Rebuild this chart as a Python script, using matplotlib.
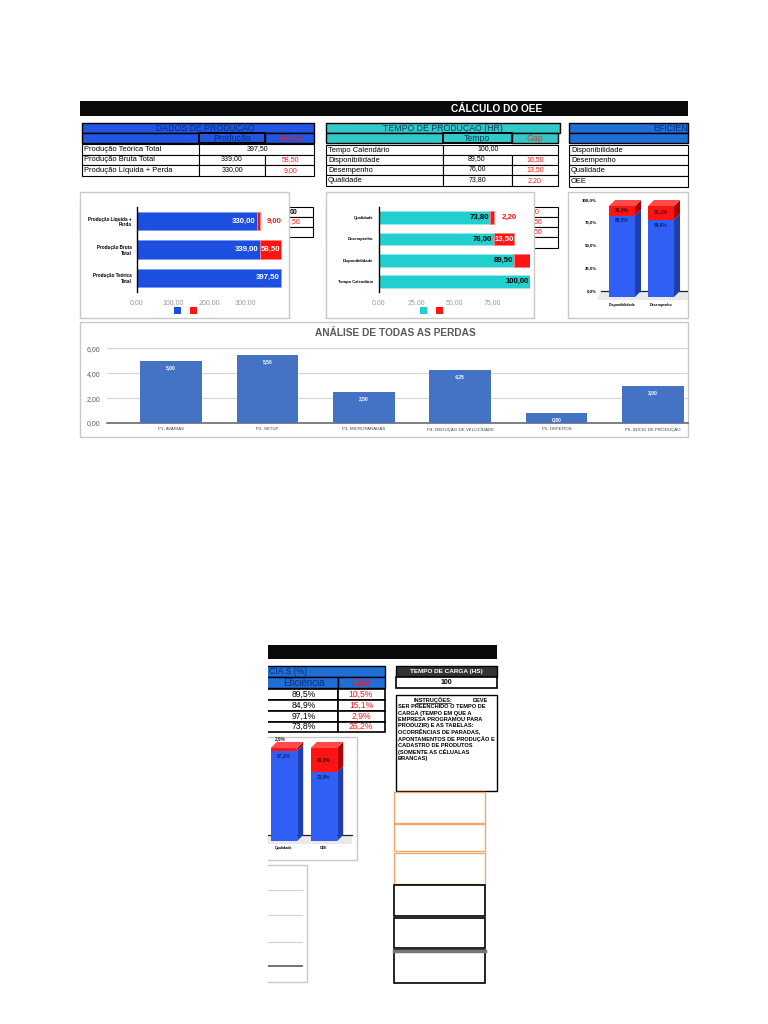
import matplotlib
matplotlib.use("Agg")
import matplotlib.pyplot as plt
from matplotlib.patches import Rectangle, Polygon

plt.rcParams['font.family'] = ['Liberation Sans', 'DejaVu Sans']

# ---- data ----
prod_labels = ["Produção Teórica Total", "Produção Bruta Total", "Produção Líquida + Perda"]
prod_chart_labels = ["Produção Teórica\nTotal", "Produção Bruta\nTotal", "Produção Líquida +\nPerda"]
prod_values = [397.50, 339.00, 330.00]
prod_loss = [0.0, 58.50, 9.00]

tempo_labels = ["Tempo Calendário", "Disponibilidade", "Desempenho", "Qualidade"]
tempo_values = [100.00, 89.50, 76.00, 73.80]
tempo_gap = [0.0, 10.50, 13.50, 2.20]

ef_labels = ["Disponibilidade", "Desempenho", "Qualidade", "OEE"]
ef_values = [89.5, 84.9, 97.1, 73.8]
ef_gap = [10.5, 15.1, 2.9, 26.2]

perdas_labels = ["P1- AVARIAS", "P2- SETUP", "P3- MICROPARADAS", "P4- REDUÇÃO DE VELOCIDADE",
                 "P5- DEFEITOS", "P6- INÍCIO DE PRODUÇÃO"]
perdas_values = [5.00, 5.50, 2.50, 4.25, 0.80, 3.00]

tempo_carga = 100

instrucoes = ["SER PREENCHIDO O TEMPO DE", "CARGA (TEMPO EM QUE A", "EMPRESA PROGRAMOU PARA",
              "PRODUZIR) E AS TABELAS:", "OCORRÊNCIAS DE PARADAS,", "APONTAMENTOS DE PRODUÇÃO E",
              "CADASTRO DE PRODUTOS", "(SOMENTE AS CÉLUALAS", "BRANCAS)"]

BLUE = '#2156e0'
BLUE2 = '#1f6fd6'
NAVY = '#0d2a7a'
TEAL = '#33c9c9'
RED = '#ff1414'
BARBLUE = '#1c4fdf'


def fmt(v, d=2):
    return f"{v:.{d}f}".replace(".", ",")


W, H = 768, 1024
fig = plt.figure(figsize=(7.68, 10.24), dpi=100)
bg = fig.add_axes([0, 0, 1, 1])
bg.set_xlim(0, W)
bg.set_ylim(H, 0)
bg.axis('off')


def box(x0, y0, x1, y1, fc='white', ec='black', lw=0.8, z=2):
    bg.add_patch(Rectangle((x0, y0), x1 - x0, y1 - y0, facecolor=fc, edgecolor=ec, linewidth=lw, zorder=z))


def txt(x, y, s, size=5.5, color='black', ha='left', weight='normal', z=6, **kw):
    bg.text(x, y, s, fontsize=size, color=color, ha=ha, va='center', fontweight=weight, zorder=z, **kw)


def panel(x0, y0, x1, y1):
    ax = fig.add_axes([x0 / W, 1 - y1 / H, (x1 - x0) / W, (y1 - y0) / H])
    ax.set_facecolor('none')
    return ax


# ---- title bar ----
box(80, 101, 688, 116, fc='#0a0a0a', ec='none')
txt(497, 108.5, "CÁLCULO DO OEE", size=7.3, color='white', ha='center', weight='bold')

# ---- table 1: dados de producao ----
box(82, 123, 314, 133, fc=BLUE, lw=1)
txt(205, 128.5, "DADOS DE PRODUÇÃO", size=6.3, color=NAVY, ha='center')
box(82, 133, 199, 143, fc=BLUE, lw=1)
box(199, 133, 265, 143, fc=BLUE, lw=1.4)
box(265, 133, 314, 143, fc=BLUE, lw=1)
txt(232, 138.5, "Produção", size=6.3, color=NAVY, ha='center')
txt(290, 138.5, "Perda", size=6.3, color=RED, ha='center')
ys = [144, 154.5, 165, 175.5]
for i, lab in enumerate(prod_labels):
    y0, y1 = ys[i], ys[i + 1]
    ym = (y0 + y1) / 2
    box(82, y0, 199, y1)
    txt(84, ym, lab, size=5.4)
    if prod_loss[i] == 0:
        box(199, y0, 314, y1)
        txt(257, ym - 1, fmt(prod_values[i]), size=5, ha='center')
    else:
        box(199, y0, 265, y1)
        box(265, y0, 314, y1)
        txt(232, ym - 1, fmt(prod_values[i]), size=5, ha='center')
        txt(290, ym, fmt(prod_loss[i]), size=5, color=RED, ha='center')

# ---- table 2: tempo de producao ----
box(326, 123, 560, 133, fc=TEAL, lw=1)
txt(443, 128.5, "TEMPO DE PRODUÇÃO (HR)", size=6.3, color='#103a60', ha='center')
box(326, 133, 443, 143, fc=TEAL, lw=1)
box(443, 133, 512, 143, fc=TEAL, lw=1.4)
box(512, 133, 558, 143, fc=TEAL, lw=1)
txt(477, 138.5, "Tempo", size=6.3, color='#103a60', ha='center')
txt(535, 138.5, "Gap", size=6.3, color='#c84040', ha='center')
ys = [145, 155, 165, 175, 186]
for i, lab in enumerate(tempo_labels):
    y0, y1 = ys[i], ys[i + 1]
    ym = (y0 + y1) / 2
    box(326, y0, 443, y1)
    txt(328, ym, lab, size=5.4)
    if tempo_gap[i] == 0:
        box(443, y0, 558, y1)
        txt(488, ym - 1, fmt(tempo_values[i]), size=5, ha='center')
    else:
        box(443, y0, 512, y1)
        box(512, y0, 558, y1)
        txt(477, ym - 1, fmt(tempo_values[i]), size=5, ha='center')
        txt(535, ym, fmt(tempo_gap[i]), size=5, color=RED, ha='center')

# ---- table 3: eficiencias (top part, cut at page edge) ----
box(569, 123, 688, 133, fc=BLUE2, lw=1)
txt(688, 128.5, "EFICIÊN", size=6.3, color=NAVY, ha='right')
box(569, 133, 688, 143, fc=BLUE2, lw=1)
ys = [145, 155, 165, 176, 187]
for i, lab in enumerate(ef_labels):
    y0, y1 = ys[i], ys[i + 1]
    box(569, y0, 688, y1)
    txt(571, (y0 + y1) / 2, lab, size=5.4)

# ---- fragments of cells hidden behind the charts ----
bg.plot([81, 81], [207, 232], color='black', lw=1.5, zorder=2)
for y0, y1 in [(207, 217), (217, 227), (227, 237)]:
    box(270, y0, 313, y1)
txt(290, 212, "00", size=5, weight='bold')
txt(290, 222, ",50", size=5, color=RED)
bg.plot([327, 327], [207, 245], color='black', lw=1.5, zorder=2)
for y0, y1 in [(207, 217), (217, 227), (227, 237), (237, 248)]:
    box(510, y0, 558, y1)
for yy, s in zip([212, 222, 232], ["20", ",50", ",50"]):
    txt(532, yy, s, size=5, color=RED)

# chart frames (white cards above the hidden cells)
for x0, y0, x1, y1 in [(80, 192, 289, 318), (326, 192, 534, 318), (568, 192, 688, 318),
                       (80, 322, 688, 437), (262, 737, 357, 860), (262, 865, 307, 982)]:
    box(x0, y0, x1, y1, fc='white', ec='#c8c8c8', lw=1, z=8)

# ---- chart 1: producao ----
ax1 = panel(137, 207, 282, 292)
pos = list(range(len(prod_values)))
ax1.barh(pos, prod_values, height=0.64, color=BARBLUE, edgecolor='#7a9af0', lw=0.6)
ax1.barh(pos, prod_loss, left=prod_values, height=0.64, color=RED, edgecolor='#ff8080', lw=0.6)
for i in pos:
    ax1.text(prod_values[i] - 4, i, fmt(prod_values[i]), color='white', fontsize=5.6,
             fontweight='bold', ha='right', va='center')
    if prod_loss[i] > 30:
        ax1.text(prod_values[i] + prod_loss[i] / 2, i, fmt(prod_loss[i]), color='white',
                 fontsize=5.6, fontweight='bold', ha='center', va='center')
    elif prod_loss[i] > 0:
        ax1.text(prod_values[i] + prod_loss[i] + 20, i, fmt(prod_loss[i]), color=RED,
                 fontsize=5.6, fontweight='bold', ha='left', va='center')
ax1.set_xlim(0, 400)
ax1.set_ylim(-0.5, len(pos) - 0.5)
ax1.set_xticks([0, 100, 200, 300])
ax1.set_xticklabels([fmt(v) for v in [0, 100, 200, 300]])
ax1.set_yticks(pos)
ax1.set_yticklabels(prod_chart_labels, fontsize=3.3, fontweight='bold')
ax1.tick_params(axis='x', length=0, labelsize=5, labelcolor='#9a9a9a', pad=5)
ax1.tick_params(axis='y', length=0, pad=4)
for s in ['top', 'right', 'bottom']:
    ax1.spines[s].set_visible(False)
ax1.spines['left'].set_linewidth(1)
box(174, 307, 181, 314, fc=BARBLUE, ec='none', z=9)
box(190, 307, 197, 314, fc=RED, ec='none', z=9)

# ---- chart 2: tempo ----
ax2 = panel(379, 207, 530, 292)
pos = list(range(len(tempo_values)))
ax2.barh(pos, tempo_values, height=0.6, color='#22cfcf', edgecolor='#9ee8e8', lw=0.6)
ax2.barh(pos, tempo_gap, left=tempo_values, height=0.6, color=RED, edgecolor='#ff8080', lw=0.6)
for i in pos:
    ax2.text(tempo_values[i] - 1, i, fmt(tempo_values[i]), color='black', fontsize=5.6,
             fontweight='bold', ha='right', va='center')
    if tempo_gap[i] >= 12:
        ax2.text(tempo_values[i] + tempo_gap[i] / 2, i, fmt(tempo_gap[i]), color='white',
                 fontsize=5.6, fontweight='bold', ha='center', va='center')
    elif 0 < tempo_gap[i] < 5:
        ax2.text(tempo_values[i] + tempo_gap[i] + 5, i, fmt(tempo_gap[i]), color=RED,
                 fontsize=5.6, fontweight='bold', ha='left', va='center')
ax2.set_xlim(0, 100)
ax2.set_ylim(-0.5, len(pos) - 0.5)
ax2.set_xticks([0, 25, 50, 75])
ax2.set_xticklabels([fmt(v) for v in [0, 25, 50, 75]])
ax2.set_yticks(pos)
ax2.set_yticklabels(tempo_labels, fontsize=3, fontweight='bold')
ax2.tick_params(axis='x', length=0, labelsize=5, labelcolor='#9a9a9a', pad=5)
ax2.tick_params(axis='y', length=0, pad=4)
for s in ['top', 'right', 'bottom']:
    ax2.spines[s].set_visible(False)
ax2.spines['left'].set_linewidth(1)
box(420, 307, 427, 314, fc='#22cfcf', ec='none', z=9)
box(436, 307, 443, 314, fc=RED, ec='none', z=9)


# ---- 3D style stacked columns (eficiencias) ----
def bars3d(ax, labels, vals, gaps, width, dx, dy, floor_x, label_y, ticks=None):
    ax.add_patch(Polygon([(floor_x[0] - 0.1, -3), (floor_x[1], -3), (floor_x[1], dy), (floor_x[0], dy)],
                         facecolor='#e9e9e9', edgecolor='none', zorder=1))
    ax.plot(floor_x, [dy, dy], color='#222222', lw=0.9, zorder=1.5)
    for i, (v, g) in enumerate(zip(vals, gaps)):
        x0, x1 = i - width / 2, i + width / 2
        ax.bar(i, v, width=width, color='#2f5ff5', zorder=3)
        ax.bar(i, g, bottom=v, width=width, color=RED, zorder=3)
        ax.add_patch(Polygon([(x1, 0), (x1 + dx, dy), (x1 + dx, v + dy), (x1, v)],
                             facecolor='#1f3db0', edgecolor='none', zorder=3))
        ax.add_patch(Polygon([(x1, v), (x1 + dx, v + dy), (x1 + dx, v + g + dy), (x1, v + g)],
                             facecolor='#b00000', edgecolor='none', zorder=3))
        ax.add_patch(Polygon([(x0, v + g), (x0 + dx, v + g + dy), (x1 + dx, v + g + dy), (x1, v + g)],
                             facecolor='#ff4a4a', edgecolor='none', zorder=3))
        ax.text(i, v - 5, fmt(v, 1) + "%", fontsize=3.4, fontweight='bold', color='#0c1f6e',
                ha='center', va='center', zorder=4)
        if g > 5:
            ax.text(i, v + g / 2 + 1, fmt(g, 1) + "%", fontsize=3.4, fontweight='bold', color='#3a0000',
                    ha='center', va='center', zorder=4)
        else:
            ax.text(i - 0.1, v + g + dy + 3, fmt(g, 1) + "%", fontsize=3.4, fontweight='bold',
                    color='#222222', ha='center', va='center', zorder=4)
        ax.text(i, label_y, labels[i], fontsize=2.6, fontweight='bold', ha='center', va='center')
    if ticks:
        for t in ticks:
            ax.text(floor_x[0] - 0.1, t + dy, fmt(t, 1) + "%", fontsize=3.2, fontweight='bold',
                    ha='right', va='center')
    ax.axis('off')


ax3 = panel(568, 192, 688, 318)
ax3.set_xlim(-1.385, 1.692)
ax3.set_ylim(-23.1, 115.4)
bars3d(ax3, ef_labels[:2], ef_values[:2], ef_gap[:2], 0.667, 0.154, 6.6,
       [-0.55, 1.7], -9, ticks=[0, 25, 50, 75, 100])

ax5 = panel(268, 737, 357, 860)
ax5.set_xlim(-0.4, 1.825)
ax5.set_ylim(-20.4, 111.8)
bars3d(ax5, ef_labels[2:], ef_values[2:], ef_gap[2:], 0.66, 0.15, 6.5, [-0.45, 1.7], -7.5)

# ---- chart 4: analise de todas as perdas ----
txt(395, 333, "ANÁLISE DE TODAS AS PERDAS", size=7.3, color='#595959', ha='center', weight='bold', z=9)
ax4 = panel(107, 348, 688, 423)
pos = list(range(len(perdas_values)))
ax4.bar(pos, perdas_values, width=0.64, color='#4472c4', zorder=3)
for i in pos:
    ax4.text(i, perdas_values[i] - 0.55, fmt(perdas_values[i]), color='white', fontsize=3.6,
             fontweight='bold', ha='center', va='center', zorder=4)
ax4.set_xlim(-0.664, 5.363)
ax4.set_ylim(0, 6.03)
ax4.set_yticks([0, 2, 4, 6])
ax4.set_yticklabels([fmt(v) for v in [0, 2, 4, 6]])
ax4.set_xticks(pos)
ax4.set_xticklabels(perdas_labels)
ax4.tick_params(axis='y', length=0, labelsize=5, labelcolor='#595959', pad=5)
ax4.tick_params(axis='x', length=0, labelsize=3.2, labelcolor='#404040', pad=3)
ax4.grid(axis='y', color='#d4d4d4', lw=0.8, zorder=0)
for s in ['top', 'right', 'left']:
    ax4.spines[s].set_visible(False)
ax4.spines['bottom'].set_color('#6a6a6a')
ax4.spines['bottom'].set_linewidth(1.2)

# ---- lower section ----
box(268, 645, 497, 659, fc='#0a0a0a', ec='none')

box(262, 666, 385, 677, fc=BLUE2, lw=1)
txt(269, 671.5, "CIA S (%)", size=6.3, color=NAVY)
box(262, 677, 338, 688, fc=BLUE2, lw=1)
box(338, 677, 385, 688, fc=BLUE2, lw=1)
txt(304, 682.5, "Eficiência", size=7, color=NAVY, ha='center')
txt(361, 682.5, "Gap", size=7, color=RED, ha='center')
ys = [689, 699.5, 710.5, 721.5, 732]
for i in range(len(ef_values)):
    y0, y1 = ys[i], ys[i + 1]
    ym = (y0 + y1) / 2
    box(262, y0, 338, y1, lw=1.2)
    box(338, y0, 385, y1, lw=1.2)
    txt(304, ym, fmt(ef_values[i], 1) + "%", size=6.2, ha='center')
    txt(361, ym, fmt(ef_gap[i], 1) + "%", size=6.2, color=RED, ha='center')
box(255, 600, 268, 1000, fc='white', ec='none', z=20)

box(396, 666, 497, 677, fc='#333333', ec='black', lw=1)
txt(446.5, 671.5, "TEMPO DE CARGA (HS)", size=4.6, color='white', ha='center', weight='bold')
box(396, 677, 497, 688, fc='white', lw=1.2)
txt(446.5, 682, str(tempo_carga), size=5, ha='center', weight='bold')

box(396, 695, 497, 791, fc='white', lw=1)
txt(433, 700, "INSTRUÇÕES:", size=4.1, ha='center', weight='bold')
bg.plot([416, 451], [702.5, 702.5], color='black', lw=0.5, zorder=6)
txt(480, 700, "DEVE", size=4.1, ha='center', weight='bold')
for k, line in enumerate(instrucoes):
    txt(398, 706.5 + 6.5 * k, line, size=4.1, weight='bold')

for y0, y1 in [(792, 823), (824, 851), (853, 884)]:
    box(394, y0, 485, y1, ec='#f4a66a', lw=1)
for y0, y1 in [(885, 916), (918, 948), (950, 983)]:
    box(394, y0, 485, y1, ec='black', lw=1.2)
bg.plot([394, 485], [951, 951], color='#777777', lw=2.5, zorder=3)

for yy, c, lw in [(890, '#d0d0d0', 0.8), (915, '#d0d0d0', 0.8), (942, '#d0d0d0', 0.8), (966, '#666666', 1.3)]:
    bg.plot([268, 302], [yy, yy], color=c, lw=lw, zorder=9)

fig.savefig("out.png", dpi=100, facecolor='white')
